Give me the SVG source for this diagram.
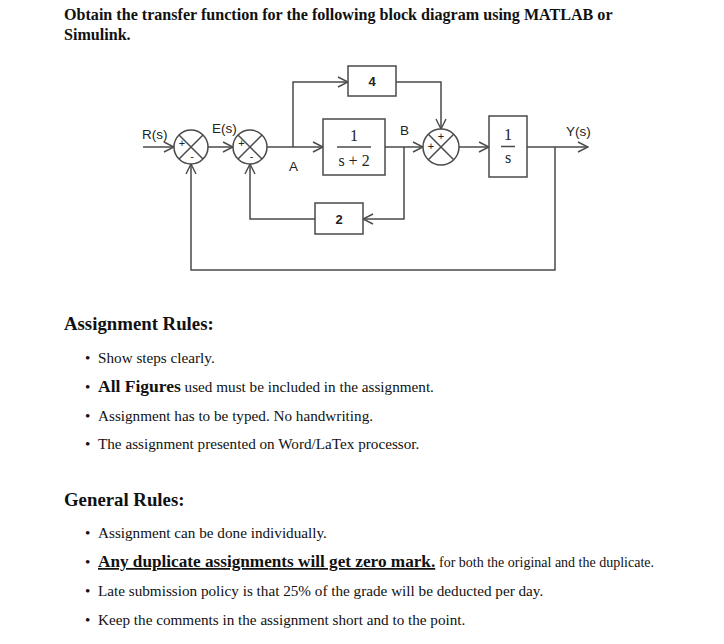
<svg xmlns="http://www.w3.org/2000/svg" width="724" height="644" viewBox="0 0 724 644">
<defs>
<marker id="arr" viewBox="0 0 12 12" refX="11" refY="6" markerWidth="12" markerHeight="12" markerUnits="userSpaceOnUse" orient="auto">
<path d="M1,1 L11,6 L1,11" fill="none" stroke="#4a4a4a" stroke-width="1.4"/>
</marker>
</defs>
<style>
.ln{fill:none;stroke:#4a4a4a;stroke-width:1.5}
.bx{fill:#fff;stroke:#4a4a4a;stroke-width:1.5}
.sum{fill:#fff;stroke:#4a4a4a;stroke-width:1.5}
.sans{font-family:"Liberation Sans",Arial,sans-serif;fill:#222}
.ser{font-family:"Liberation Serif","Times New Roman",serif;fill:#222}
.sg{font-family:"Liberation Sans",Arial,sans-serif;font-size:11px;fill:#222;text-anchor:middle}
.title{font-family:"Liberation Serif","Times New Roman",serif;font-weight:bold;font-size:16.1px;fill:#111}
.h{font-family:"Liberation Serif","Times New Roman",serif;font-weight:bold;font-size:18.8px;fill:#111}
.t{font-family:"Liberation Serif","Times New Roman",serif;font-size:15.2px;fill:#111}
.b{font-weight:bold}
</style>
<rect width="724" height="644" fill="#fff"/>
<text class="title" x="64" y="20">Obtain the transfer function for the following block diagram using MATLAB or</text>
<text class="title" x="64" y="39.5">Simulink.</text>

<g id="connectors">
<line class="ln" x1="143" y1="147" x2="174" y2="147" marker-end="url(#arr)"/>
<line class="ln" x1="208" y1="147" x2="233" y2="147" marker-end="url(#arr)"/>
<line class="ln" x1="267" y1="147" x2="323" y2="147" marker-end="url(#arr)"/>
<polyline class="ln" points="293,147 293,82 348,82" marker-end="url(#arr)"/>
<polyline class="ln" points="396,82 441,82 441,129" marker-end="url(#arr)"/>
<line class="ln" x1="385" y1="147" x2="423" y2="147" marker-end="url(#arr)"/>
<polyline class="ln" points="404,147 404,219 363,219" marker-end="url(#arr)"/>
<polyline class="ln" points="315,219 250,219 250,164" marker-end="url(#arr)"/>
<line class="ln" x1="459" y1="147" x2="489" y2="147" marker-end="url(#arr)"/>
<line class="ln" x1="527" y1="147" x2="588" y2="147" marker-end="url(#arr)"/>
<polyline class="ln" points="555,147 555,270 191,270 191,164" marker-end="url(#arr)"/>
</g>

<g id="sum1">
<circle class="sum" cx="191" cy="147" r="17"/>
<path class="ln" d="M179,135 L203,159 M203,135 L179,159"/>
<text class="sg" x="182" y="147">+</text>
<text class="sg" x="192" y="160">-</text>
</g>
<g id="sum2">
<circle class="sum" cx="250" cy="147" r="17"/>
<path class="ln" d="M238,135 L262,159 M262,135 L238,159"/>
<text class="sg" x="241.5" y="147">+</text>
<text class="sg" x="251.5" y="160">-</text>
</g>
<g id="sum3">
<circle class="sum" cx="441" cy="147" r="18"/>
<path class="ln" d="M428.3,134.3 L453.7,159.7 M453.7,134.3 L428.3,159.7"/>
<text class="sg" x="441" y="140">+</text>
<text class="sg" x="431" y="150">+</text>
</g>

<g id="block4">
<rect class="bx" x="348" y="66" width="48" height="30"/>
<text class="sans b" x="372" y="86" font-size="13" text-anchor="middle">4</text>
</g>
<g id="blockG">
<rect class="bx" x="323" y="119" width="62" height="56"/>
<text class="ser" x="354" y="141" font-size="16" text-anchor="middle">1</text>
<line class="ln" x1="337" y1="147" x2="371" y2="147" stroke-width="1.2"/>
<text class="ser" x="354" y="166" font-size="16" text-anchor="middle">s + 2</text>
</g>
<g id="block2">
<rect class="bx" x="315" y="203" width="48" height="31"/>
<text class="sans b" x="339" y="223.5" font-size="13" text-anchor="middle">2</text>
</g>
<g id="blockInt">
<rect class="bx" x="489" y="116" width="38" height="61"/>
<text class="ser" x="508" y="140" font-size="16" text-anchor="middle">1</text>
<line class="ln" x1="501" y1="146.5" x2="515" y2="146.5" stroke-width="1.2"/>
<text class="ser" x="508" y="163" font-size="16" text-anchor="middle">s</text>
</g>

<g id="labels">
<text class="sans" x="142" y="139" font-size="13.5">R(s)</text>
<text class="sans" x="212" y="133" font-size="13.5">E(s)</text>
<text class="sans" x="289" y="171" font-size="13.5">A</text>
<text class="sans" x="400" y="135" font-size="13.5">B</text>
<text class="sans" x="566" y="136" font-size="13.5">Y(s)</text>
</g>

<text class="h" x="64" y="330">Assignment Rules:</text>
<g class="t">
<text x="85" y="363">•</text><text x="98" y="363">Show steps clearly.</text>
<text x="85" y="392">•</text><text x="98" y="392"><tspan class="b" font-size="17.5">All Figures</tspan> used must be included in the assignment.</text>
<text x="85" y="421">•</text><text x="98" y="421">Assignment has to be typed.  No handwriting.</text>
<text x="85" y="449">•</text><text x="98" y="449">The assignment presented on Word/LaTex processor.</text>
</g>

<text class="h" x="64" y="506">General Rules:</text>
<g class="t">
<text x="85" y="538">•</text><text x="98" y="538">Assignment can be done individually.</text>
<text x="85" y="567">•</text><text x="98" y="567"><tspan class="b" font-size="17.2" text-decoration="underline">Any duplicate assignments will get zero mark.</tspan> <tspan font-size="14">for both the original and the duplicate.</tspan></text>
<text x="85" y="596">•</text><text x="98" y="596">Late submission policy is that 25% of the grade will be deducted per day.</text>
<text x="85" y="625">•</text><text x="98" y="625">Keep the comments in the assignment short and to the point.</text>
</g>
</svg>
